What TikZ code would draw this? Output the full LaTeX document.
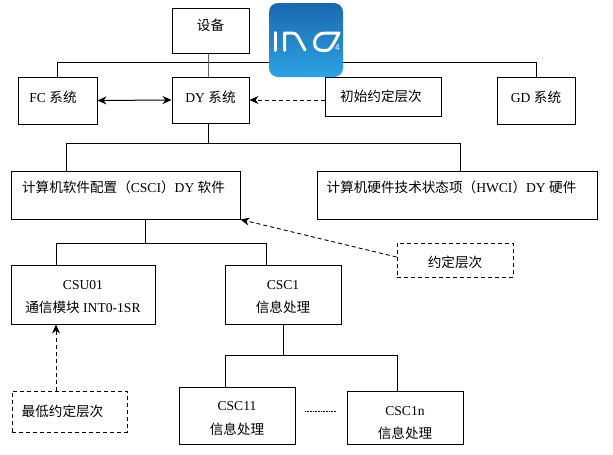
\documentclass[tikz,border=0pt]{standalone}
\usepackage{fontspec}
\setmainfont{Liberation Serif}
\newfontfamily\cjk{Noto Sans CJK SC}
\usetikzlibrary{arrows.meta,shadings}
\newcommand{\zh}[1]{{\cjk #1}}
\newcommand{\dn}[1]{\rule{0pt}{#1pt}}
\definecolor{lgtop}{HTML}{1B68AE}
\definecolor{lgbot}{HTML}{2CA3E3}
\tikzset{
  every node/.style={font=\fontsize{13.6}{23}\selectfont},
  box/.style={draw=black,line width=1pt,fill=white,inner sep=0pt,align=center},
  dbox/.style={box,dash pattern=on 4pt off 3pt},
  conn/.style={black,line width=1pt},
  darrow/.style={conn,dash pattern=on 4pt off 3pt,-{Stealth[length=9pt,width=8pt]}},
  logostroke/.style={white,line width=3pt,line cap=round,line join=round}
}
\begin{document}
\begin{tikzpicture}[x=1pt,y=-1pt]
\useasboundingbox (0,0) rectangle (613,455);
\fill[white] (0,0) rectangle (613,455);
% bus coordinates
\coordinate (topl) at (57,62);
\coordinate (topr) at (536,62);
\coordinate (midl) at (66,143);
\coordinate (midr) at (460,143);
\coordinate (lowl) at (56,243);
\coordinate (lowr) at (266,243);
\coordinate (botl) at (225,355);
\coordinate (botr) at (397,355);
% boxes
\node[box,minimum width=77pt,minimum height=45pt] (dev) at (210.5,30.5) {\raisebox{11pt}{\zh{设备}}};
\node[box,minimum width=79pt,minimum height=47pt] (fc) at (57.5,100.5) {\hspace*{-9pt}\raisebox{7pt}{FC \zh{系统}}};
\node[box,minimum width=77pt,minimum height=46pt] (dy) at (210.5,100) {\raisebox{6pt}{DY \zh{系统}}};
\node[box,minimum width=116pt,minimum height=39pt] (init) at (383,96.5) {\hspace*{-4pt}\zh{初始约定层次}};
\node[box,minimum width=78pt,minimum height=47pt] (gd) at (536,100.5) {\raisebox{7pt}{GD \zh{系统}}};
\node[box,minimum width=229pt,minimum height=48pt] (csci) at (125.5,195) {\hspace*{-4pt}\raisebox{16pt}{\zh{计算机软件配置（}CSCI\zh{）}DY \zh{软件}}};
\node[box,minimum width=280pt,minimum height=48pt] (hwci) at (457,195) {\hspace*{-11pt}\raisebox{16pt}{\zh{计算机硬件技术状态项（}HWCI\zh{）}DY \zh{硬件}}};
\node[box,minimum width=144pt,minimum height=59pt] (csu) at (83,294.5) {\dn{14}CSU01\\\zh{通信模块} INT0-1SR};
\node[box,minimum width=116pt,minimum height=59pt] (csc1) at (283,294.5) {\dn{14}CSC1\\\zh{信息处理}};
\node[box,minimum width=116pt,minimum height=57pt] (csc11) at (237,415.5) {\dn{15}CSC11\\[1pt]\zh{信息处理}};
\node[box,minimum width=116pt,minimum height=53pt] (csc1n) at (405,417.5) {\dn{21}CSC1n\\\zh{信息处理}};
\node[dbox,minimum width=115pt,minimum height=41pt] (low) at (69.5,411.5) {\hspace*{-14pt}\zh{最低约定层次}};
\node[dbox,minimum width=116pt,minimum height=34pt] (agr) at (455,260) {\dn{17}\zh{约定层次}};
% connectors
\draw[conn] (topl) -- (topr);
\draw[conn] (fc.north -| topl) -- (topl);
\draw[conn] (gd.north -| topr) -- (topr);
\draw[line width=1pt,black!60] ([xshift=-2.5pt]dev.south) -- ([xshift=-2.5pt]dy.north);
\draw[conn,{Stealth[length=9pt,width=8pt]}-{Stealth[length=9pt,width=8pt]}] (fc.east) -- (dy.west);
\draw[darrow] ([yshift=-3.5pt]init.west) -- (dy.east);
\draw[conn] ([xshift=-2pt]dy.south) -- ([xshift=-2pt]dy.south |- midl);
\draw[conn] (midl) -- (midr);
\draw[conn] (midl) -- (midl |- csci.north);
\draw[conn] (midr) -- (midr |- hwci.north);
\draw[conn] ([xshift=19.5pt]csci.south) -- ([xshift=19.5pt]csci.south |- lowl);
\draw[conn] (lowl) -- (lowr);
\draw[conn] (lowl) -- (lowl |- csu.north);
\draw[conn] (lowr) -- (lowr |- csc1.north);
\draw[conn] (csc1.south) -- (csc1.south |- botl);
\draw[conn] (botl) -- (botr);
\draw[conn] (botl) -- (botl |- csc11.north);
\draw[conn] (botr) -- (botr |- csc1n.north);
\draw[darrow] (low.north -| lowl) -- (lowl |- csu.south);
\draw[darrow,line width=0.9pt] ([yshift=3pt]agr.west) -- (csci.south east);
\draw[line width=0.8pt,black,dash pattern=on 1pt off 0.6pt] (305,411) -- (336,411);
% logo
\shade[top color=lgtop,bottom color=lgbot,rounded corners=9pt] (269,3) rectangle (343,77);
\draw[logostroke] (275,32.5) -- (275,50.5);
\draw[logostroke] (284.5,50.5) -- (284.5,33) -- (292,33) .. controls (295,33) and (296,34) .. (298,37) -- (305,50);
\draw[logostroke] (339,33) -- (325,33) .. controls (318,33) and (314.5,38) .. (314.5,43) .. controls (314.5,48) and (318,50.5) .. (323,50.5) -- (326,50.5) .. controls (330,50.5) and (332,47) .. (339,33);
\node[white,font=\fontsize{9}{10}\selectfont\sffamily,inner sep=0pt] (four) at (337.5,48) {4};
\end{tikzpicture}
\end{document}
